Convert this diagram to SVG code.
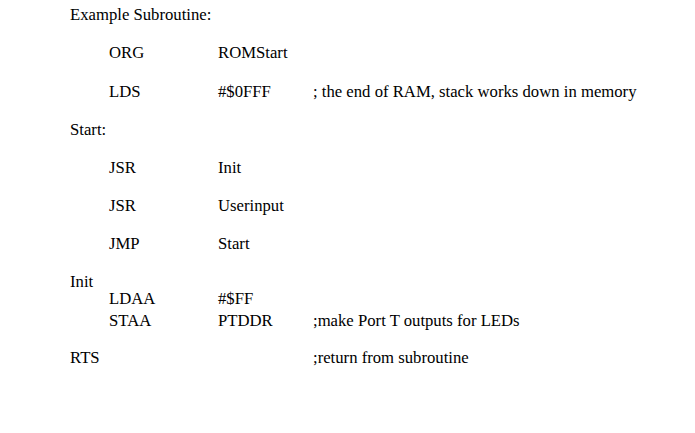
<svg xmlns="http://www.w3.org/2000/svg" width="695" height="433" viewBox="0 0 695 433">
<style>text{font-family:"Liberation Serif","Times New Roman",serif;font-size:16.7px;fill:#000}</style>
<rect width="695" height="433" fill="#fff"/>
<text x="70" y="20">Example Subroutine:</text>
<text x="109" y="58">ORG</text><text x="218" y="58">ROMStart</text>
<text x="109" y="97">LDS</text><text x="218" y="97">#$0FFF</text><text x="313" y="97">; the end of RAM, stack works down in memory</text>
<text x="70" y="135">Start:</text>
<text x="109" y="173">JSR</text><text x="218" y="173">Init</text>
<text x="109" y="211">JSR</text><text x="218" y="211">Userinput</text>
<text x="109" y="249">JMP</text><text x="218" y="249">Start</text>
<text x="70" y="287">Init</text>
<text x="109" y="304">LDAA</text><text x="218" y="304">#$FF</text>
<text x="109" y="326">STAA</text><text x="218" y="326">PTDDR</text><text x="313" y="326">;make Port T outputs for LEDs</text>
<text x="70" y="363">RTS</text><text x="313" y="363">;return from subroutine</text>
</svg>
